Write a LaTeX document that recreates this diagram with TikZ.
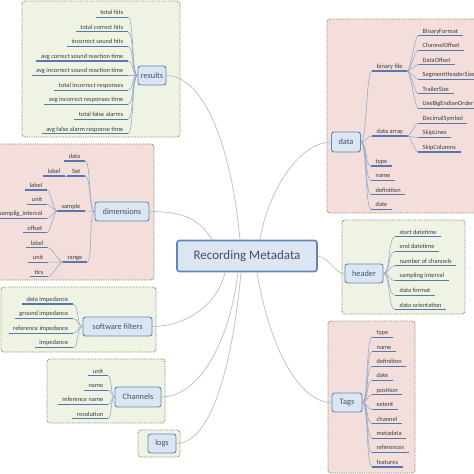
\documentclass[tikz,border=0pt]{standalone}
\usepackage{fontspec}
\setmainfont{Carlito}
\usepackage{tikz}

\definecolor{topicfill}{RGB}{220,230,242}
\definecolor{topicline}{RGB}{96,134,186}
\definecolor{topictext}{RGB}{62,82,110}
\definecolor{grpgreen}{RGB}{239,243,228}
\definecolor{grppink}{RGB}{243,222,219}
\definecolor{grpline}{RGB}{140,140,95}
\definecolor{ulineblue}{RGB}{84,120,178}
\definecolor{twiggray}{RGB}{150,172,204}
\definecolor{branchgray}{RGB}{192,196,202}
\definecolor{leafgray}{RGB}{60,60,60}

\begin{document}
\begin{tikzpicture}[x=1pt,y=1pt,yscale=-1,xscale=1,
  grp/.style={draw=grpline, line width=0.9pt, dash pattern=on 0.9pt off 0.9pt, rounded corners=3pt},
  topic/.style={draw=topicline, fill=topicfill, line width=0.9pt, rounded corners=2.5pt, text=topictext, font=\fontsize{8.3}{9}\selectfont, inner sep=0pt},
  uline/.style={draw=ulineblue, line width=1.1pt},
  leaf/.style={font=\fontsize{6.4}{7}\selectfont, text=leafgray, inner xsep=4.5pt, inner ysep=1.2pt, text height=4.5pt, text depth=1.3pt,
    append after command={(\tikzlastnode.south west) edge[uline] (\tikzlastnode.south east)}},
  leafL/.style={leaf, anchor=south east},
  leafR/.style={leaf, anchor=south west},
  twig/.style={draw=twiggray, line width=0.6pt},
  branch/.style={draw=branchgray, line width=0.8pt}]
\path[use as bounding box, fill=white] (0,0) rectangle (474,474);

%Group boxes
\draw[grp, fill=grpgreen] (22,1) rectangle (180,137);
\draw[grp, fill=grppink] (-5,144) rectangle (154,280);
\draw[grp, fill=grpgreen] (1,287) rectangle (156,352);
\draw[grp, fill=grpgreen] (47,359) rectangle (165,423);
\draw[grp, fill=grpgreen] (138,430) rectangle (180,457);
\draw[grp, fill=grppink] (327,19) rectangle (480,213);
\draw[grp, fill=grpgreen] (342,220) rectangle (465,314);
\draw[grp, fill=grppink] (328,321) rectangle (415,473);

%Topics
\node[topic, minimum width=140, minimum height=31, line width=1.6pt, font=\fontsize{13}{15}\selectfont] (rm) at (247,256) {Recording Metadata};
\node[topic, minimum width=28, minimum height=19] (results) at (152,75.5) {results};
\node[topic, minimum width=54, minimum height=19] (dimensions) at (122,211.5) {dimensions};
\node[topic, minimum width=69, minimum height=19] (filters) at (117.5,326.5) {software filters};
\node[topic, minimum width=46, minimum height=20] (channels) at (138,397) {Channels};
\node[topic, minimum width=28, minimum height=19] (logs) at (162,443.5) {logs};
\node[topic, minimum width=29, minimum height=20] (data) at (346,142) {data};
\node[topic, minimum width=38, minimum height=19] (header) at (364,273.5) {header};
\node[topic, minimum width=30, minimum height=19] (tags) at (347,402.5) {Tags};

%Main branches
\draw[branch] ([xshift=-7pt]rm.north) .. controls (232,150) and (205,76) .. (results.east);
\draw[branch] ([xshift=-35pt]rm.north) .. controls (200,220) and (185,211.5) .. (dimensions.east);
\draw[branch] ([xshift=13pt]rm.north) .. controls (268,190) and (300,142) .. (data.west);
\draw[branch] (rm.east) .. controls (330,258) and (335,273.5) .. (header.west);
\draw[branch] ([xshift=-22pt]rm.south) .. controls (218,305) and (185,326.5) .. (filters.east);
\draw[branch] ([xshift=-9pt]rm.south) .. controls (230,340) and (200,397) .. (channels.east);
\draw[branch] ([xshift=-6pt]rm.south) .. controls (232,370) and (210,443.5) .. (logs.east);
\draw[branch] ([xshift=10pt]rm.south) .. controls (270,350) and (300,402.5) .. (tags.west);

%results
\foreach \t [count=\i] in {total hits,total correct hits,incorrect sound hits,avg correct sound reaction time,avg incorrect sound reaction time,total incorrect responses,avg incorrect responses time,total false alarms,avg false alarm response time}
  \node[leafL] (res\i) at (128,{17.3+14.55*(\i-1)}) {\t};
\foreach \i in {1,...,9}
  \draw[twig] (results.west) .. controls +(-6,0) and +(6,0) .. (res\i.south east);

%dimensions
\node[leafL] (dimdata) at (85,161) {data};
\node[leafL] (dimset) at (85,176) {Set};
\node[leafL] (setlabel) at (65,176) {label};
\node[leafL] (dimsample) at (85,211) {sample};
\node[leafL] (dimrange) at (87,262) {range};
\foreach \n in {dimdata,dimset,dimsample,dimrange}
  \draw[twig] (dimensions.west) .. controls +(-6,0) and +(6,0) .. (\n.south east);
\draw[twig] (dimset.south west) -- (setlabel.south east);
\foreach \t [count=\i] in {label,unit,samplig\_interval,offset}
  \node[leafL] (smp\i) at (47,{190+14.3*(\i-1)}) {\t};
\foreach \i in {1,...,4}
  \draw[twig] (dimsample.south west) .. controls +(-3,0) and +(3,0) .. (smp\i.south east);
\foreach \t [count=\i] in {label,unit,tics}
  \node[leafL] (rng\i) at (48,{247.7+14.5*(\i-1)}) {\t};
\foreach \i in {1,...,3}
  \draw[twig] (dimrange.south west) .. controls +(-4,0) and +(4,0) .. (rng\i.south east);

%software filters
\foreach \t [count=\i] in {data impedance,ground impedance,reference impedance,impedance}
  \node[leafL] (flt\i) at (73,{304+14.55*(\i-1)}) {\t};
\foreach \i in {1,...,4}
  \draw[twig] (filters.west) .. controls +(-6,0) and +(6,0) .. (flt\i.south east);

%Channels
\foreach \t [count=\i] in {unit,name,reference name,resolution}
  \node[leafL] (chn\i) at (108,{375.7+14.35*(\i-1)}) {\t};
\foreach \i in {1,...,4}
  \draw[twig] (channels.west) .. controls +(-4,0) and +(4,0) .. (chn\i.south east);

%data
\node[leafR] (binfile) at (372,71) {binary file};
\node[leafR] (datarray) at (372,136) {data array};
\foreach \t [count=\i] in {type,name,definition,date}
  \node[leafR] (dat\i) at (371,{166+14.35*(\i-1)}) {\t};
\foreach \n in {binfile,datarray,dat1,dat2,dat3,dat4}
  \draw[twig] (data.east) .. controls +(6,0) and +(-6,0) .. (\n.south west);
\foreach \t [count=\i] in {BinaryFormat,ChannelOffset,DataOffset,SegmentHeaderSize,TrailerSize,UseBigEndianOrder}
  \node[leafR] (bin\i) at (418,{35.7+14.5*(\i-1)}) {\t};
\foreach \i in {1,...,6}
  \draw[twig] (binfile.south east) .. controls +(3,0) and +(-3,0) .. (bin\i.south west);
\foreach \t [count=\i] in {DecimalSymbol,SkipLines,SkipColumns}
  \node[leafR] (arr\i) at (418,{123.3+14.35*(\i-1)}) {\t};
\foreach \i in {1,...,3}
  \draw[twig] (datarray.south east) .. controls +(3,0) and +(-3,0) .. (arr\i.south west);

%header
\foreach \t [count=\i] in {start datetime,end datetime,number of channels,sampling interval,data format,data orientation}
  \node[leafR] (hdr\i) at (395,{236.7+14.6*(\i-1)}) {\t};
\foreach \i in {1,...,6}
  \draw[twig] (header.east) .. controls +(7,0) and +(-7,0) .. (hdr\i.south west);

%Tags
\foreach \t [count=\i] in {type,name,definition,date,position,extent,channel,metadata,references,features}
  \node[leafR] (tag\i) at (372,{337.3+14.41*(\i-1)}) {\t};
\foreach \i in {1,...,10}
  \draw[twig] (tags.east) .. controls +(6,0) and +(-6,0) .. (tag\i.south west);

\end{tikzpicture}
\end{document}
